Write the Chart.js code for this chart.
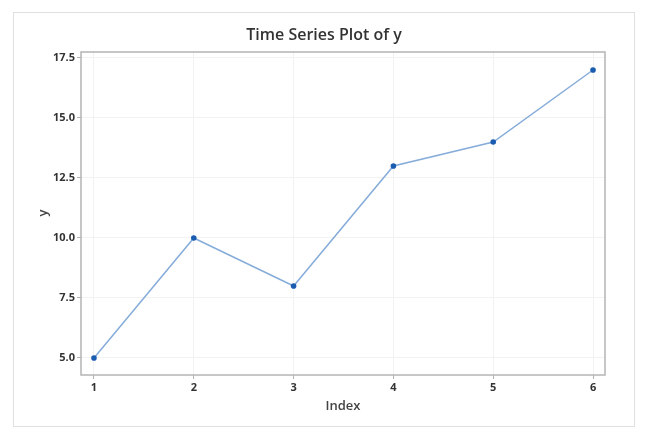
<!DOCTYPE html>
<html><head><meta charset="utf-8">
<script src="https://cdn.jsdelivr.net/npm/chart.js@4"></script>
<style>html,body{margin:0;padding:0;background:#fff}#wrap{width:652px;height:440px;position:relative}</style>
</head><body><div id="wrap"><canvas id="c" width="652" height="440"></canvas></div>
<script>
const indexValues = [1, 2, 3, 4, 5, 6];
const yValues = [5, 10, 8, 13, 14, 17];
const yTicks = [5.0, 7.5, 10.0, 12.5, 15.0, 17.5];
const xTicks = [1, 2, 3, 4, 5, 6];
const titleText = 'Time Series Plot of y';
const xTitle = 'Index';
const yTitle = 'y';

const FONT = '"Open Sans", "Noto Sans", sans-serif';
const frame = {
  id: 'frame',
  beforeDraw(chart) {
    const ctx = chart.ctx;
    ctx.save();
    ctx.strokeStyle = '#e0e0e0';
    ctx.lineWidth = 1;
    ctx.strokeRect(13.5, 12.5, 621, 414);
    ctx.restore();
  },
  afterDraw(chart) {
    const ctx = chart.ctx, a = chart.chartArea;
    ctx.save();
    ctx.strokeStyle = '#b4b4b4';
    ctx.lineWidth = 1.5;
    ctx.strokeRect(a.left, a.top, a.right - a.left, a.bottom - a.top);
    ctx.fillStyle = '#333';
    ctx.textAlign = 'center';
    ctx.textBaseline = 'alphabetic';
    ctx.font = '600 16px ' + FONT;
    ctx.fillText(titleText, 324, 40);
    ctx.font = '600 13px ' + FONT;
    ctx.fillStyle = '#444';
    ctx.textBaseline = 'middle';
    ctx.fillText(xTitle, 343, 406);
    ctx.translate(43, 213);
    ctx.rotate(-Math.PI / 2);
    ctx.fillText(yTitle, 0, 0);
    ctx.restore();
  }
};

new Chart(document.getElementById('c'), {
  type: 'line',
  data: {
    datasets: [{
      data: indexValues.map((x, i) => ({x: x, y: yValues[i]})),
      borderColor: '#86acd9',
      borderWidth: 1.5,
      pointBackgroundColor: '#1a5cb0',
      pointBorderColor: '#1a5cb0',
      pointRadius: 2.8,
      pointBorderWidth: 0,
      tension: 0
    }]
  },
  options: {
    responsive: false,
    animation: false,
    layout: {padding: {left: 0, right: 47, top: 52, bottom: 0}},
    plugins: {legend: {display: false}, tooltip: {enabled: false}, title: {display: false}},
    scales: {
      x: {
        type: 'linear', min: 0.87, max: 6.12,
        afterBuildTicks: s => { s.ticks = xTicks.map(v => ({value: v})); },
        afterFit: s => { s.height = 65; },
        border: {display: false},
        grid: {color: '#f2f2f2', lineWidth: 1, drawTicks: true, tickLength: 4, tickColor: '#b4b4b4'},
        ticks: {color: '#333', font: {family: FONT, size: 11, weight: '700'}, padding: 2, maxRotation: 0,
          callback: v => String(v)}
      },
      y: {
        type: 'linear', min: 4.29, max: 17.75,
        afterBuildTicks: s => { s.ticks = yTicks.map(v => ({value: v})); },
        afterFit: s => { s.width = 81; },
        border: {display: false},
        grid: {color: '#f2f2f2', lineWidth: 1, drawTicks: true, tickLength: 4, tickColor: '#b4b4b4'},
        ticks: {color: '#333', font: {family: FONT, size: 11, weight: '700'}, padding: 2,
          callback: v => v.toFixed(1)}
      }
    }
  },
  plugins: [frame]
});
</script></body></html>
